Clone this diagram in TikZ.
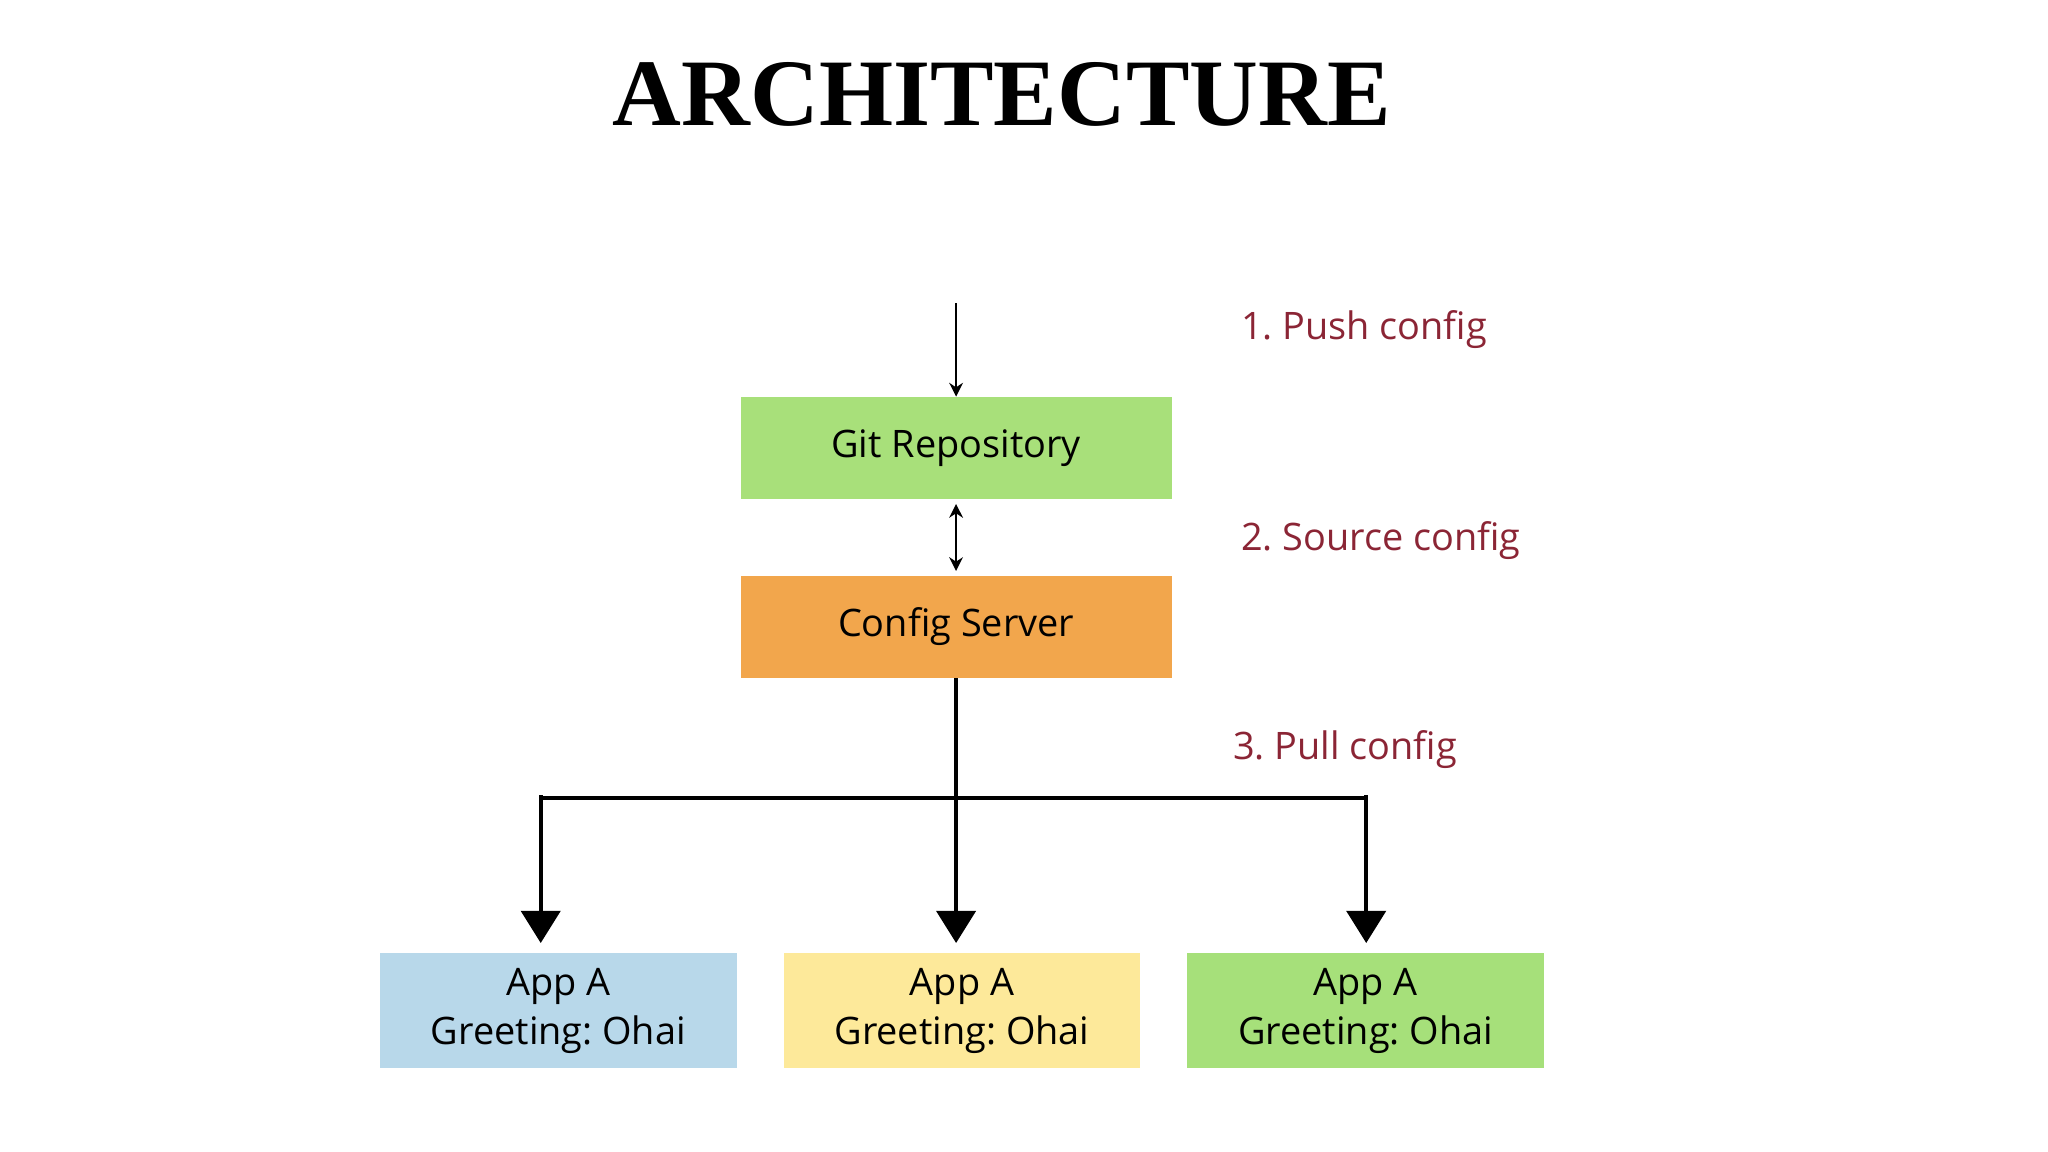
\documentclass[tikz,border=0pt]{standalone}
\usepackage{fontspec}
\setmainfont{Open Sans}
\newfontfamily\titlefont{Liberation Serif}
\usetikzlibrary{arrows.meta}
\frenchspacing
\definecolor{gitg}{HTML}{A8E07A}
\definecolor{cfgo}{HTML}{F2A64C}
\definecolor{appb}{HTML}{B8D8EA}
\definecolor{appy}{HTML}{FDE99A}
\definecolor{appg}{HTML}{A6E07A}
\definecolor{lbl}{HTML}{8B2535}
\begin{document}
\begin{tikzpicture}[x=0.02cm,y=-0.02cm,
  box/.style={draw=none,minimum width=330*0.02cm,minimum height=78*0.02cm,font=\fontsize{16.5}{20}\selectfont,inner sep=0pt},
  app/.style={draw=none,minimum width=273*0.02cm,minimum height=88*0.02cm,font=\fontsize{16.5}{21}\selectfont,align=center,inner sep=0pt},
  lab/.style={text=lbl,anchor=west,font=\fontsize{16.5}{20}\selectfont},
  thin/.style={line width=0.8pt,-{Stealth[length=6pt,width=6pt]}},
  thick/.style={line width=1.8pt,-{Triangle[length=14pt,width=17pt]}}]
\useasboundingbox (0,0) rectangle (1568,882);
\node[font=\titlefont\bfseries\fontsize{41.5}{46}\selectfont] (title) at (767,72) {ARCHITECTURE};
\node[box,fill=gitg] (git) at (732,343) {Git Repository};
\node[box,fill=cfgo] (cfg) at (732,480) {Config Server};
\node[app,fill=appb] (a1) at (427.5,774) {App A\\Greeting: Ohai};
\node[app,fill=appy] (a2) at (736.5,774) {App A\\Greeting: Ohai};
\node[app,fill=appg] (a3) at (1045.5,774) {App A\\Greeting: Ohai};
\coordinate (top) at (732,232);
\draw[thin] (top) -- (git.north -| top);
\draw[line width=0.8pt,{Stealth[length=6pt,width=6pt]}-{Stealth[length=6pt,width=6pt]}] ([yshift=-2pt]git.south) -- ([yshift=2pt]cfg.north);
\draw[thick] (cfg.south) -- (732,722);
\draw[line width=1.8pt] (414,611) -- (1046,611);
\draw[thick] (414,609) -- (414,722);
\draw[thick] (1046,609) -- (1046,722);
\node[lab] (l1) at (944,252) {1. Push config};
\node[lab] (l2) at (944,414) {2. Source config};
\node[lab] (l3) at (938,574) {3. Pull config};
\end{tikzpicture}
\end{document}
